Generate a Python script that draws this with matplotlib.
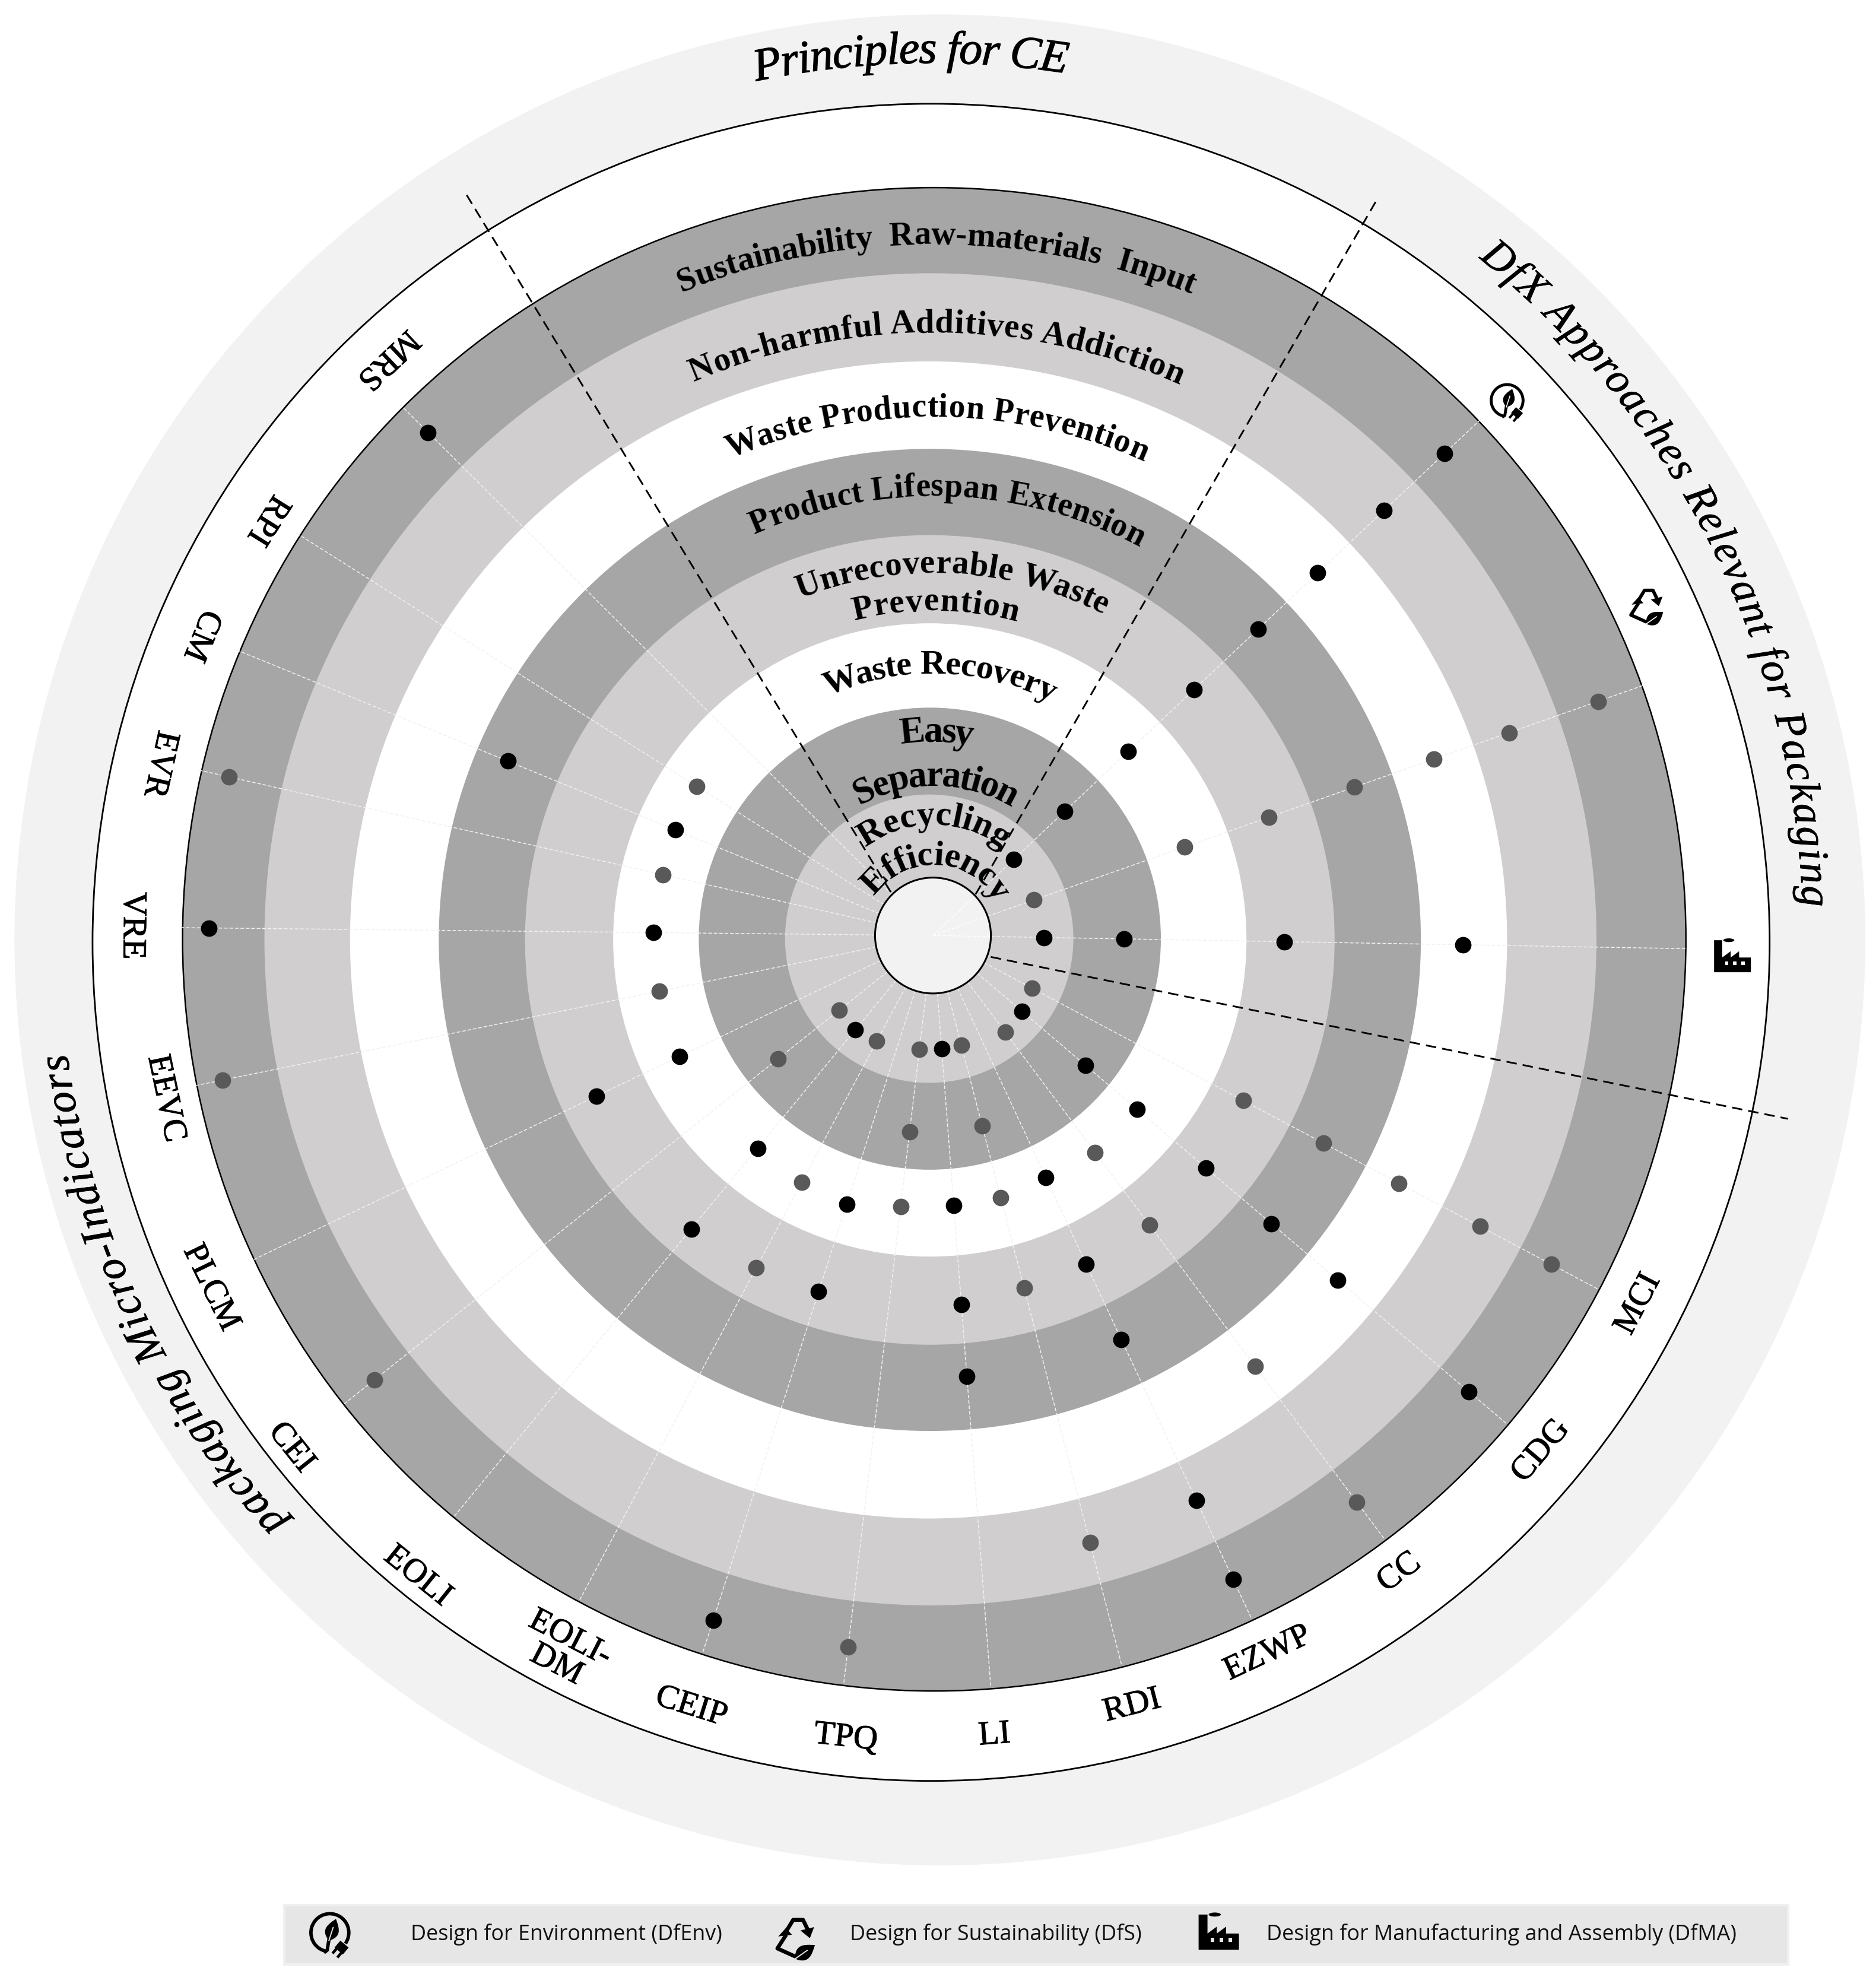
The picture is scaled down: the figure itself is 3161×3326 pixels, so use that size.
import numpy as np
import matplotlib
matplotlib.use("Agg")
import matplotlib.pyplot as plt
import matplotlib.patheffects as pe
from matplotlib.font_manager import FontProperties
from matplotlib.patches import Arc, Circle, Ellipse, Polygon, Rectangle

W, H = 3161, 3326
PX = 2.1215  # radial unit -> pixels
CX, CY = 741 * PX, 743 * PX

# rings, outer to inner (drawn biggest first), the picture is not quite concentric
ring_r = [597, 529, 459.5, 390, 321.5, 251.5, 183.5, 114.5]
ring_cx = [742, 739, 737.5, 738.5, 738.5, 738.5, 738.5, 738]
ring_cy = [746, 746, 746.5, 746.5, 746.5, 746.5, 745.5, 745.5]
ring_colors = ['#a6a6a6', '#d0cece', '#ffffff', '#a6a6a6', '#d0cece', '#ffffff', '#a6a6a6', '#d0cece']
HOLE_R = 46
SPOKE_END = 598

# spokes: angle clockwise from east, radius of each dot, tone
spoke_theta = [-43.3, -19.4, 1.0, 28, 40.4, 53.2, 65, 75.5, 85.6, 96.8, 107.8, 118,
               129.5, 141.5, 154.5, 168.5, 180.6, 192.7, 202.3, 212.3, 224.9]
spoke_dots = [
    [558, 492, 420, 355, 285, 213, 144, 88],
    [560, 485, 422, 355, 283, 212, 85],
    [421, 279, 152, 88],
    [556, 492, 419, 351, 279, 89],
    [559, 422, 353, 285, 213, 159, 93],
    [562, 427, 287, 215, 96],
    [564, 495, 354, 288, 212],
    [498, 289, 215, 156, 90],
    [351, 294, 215, 90],
    [569, 217, 157, 91],
    [571, 297, 224],
    [299, 222, 95],
    [302, 219, 97],
    [567, 157, 95],
    [296, 223],
    [576, 222],
    [575, 222],
    [573, 220],
    [365, 221],
    [222],
    [566],
]
spoke_tone = ['k', 'g'] * 10 + ['k']

# indicator names around the rim
label_names = ['MRS', 'RPI', 'CM', 'EVR', 'VRE', 'EEVC', 'PLCM', 'CEI', 'EOLI', 'EOLI-\nDM',
               'CEIP', 'TPQ', 'LI', 'RDI', 'EZWP', 'CC', 'CDG', 'MCI']
label_theta = [226.6, 212, 202.3, 192.5, 180.7, 168, 154, 141.4, 128.8, 117.3,
               107.4, 96.2, 85.6, 75.5, 65, 53.8, 40.3, 27.6]
label_r = [630, 623, 628, 629, 636, 623, 638, 652, 653, 640, 642, 641, 637, 632, 629, 627, 633, 632]

# principles written along the rings: text, baseline radius, centre, span, font size
ring_labels = [
    ('Sustainability  Raw-materials  Input', 549, 270.3, 43.3, 41),
    ('Non-harmful Additives Addiction', 479, 270.4, 47.5, 41),
    ('Waste Production Prevention', 412, 270.5, 47, 40),
    ('Product Lifespan Extension', 349, 272, 52, 40),
    ('Unrecoverable Waste', 288, 273.2, 49.5, 41),
    ('Prevention', 258, 270.5, 29, 41),
    ('Waste Recovery', 208, 271.5, 50.5, 42),
    ('Easy', 154, 271, 21, 46),
    ('Separation', 119, 271, 61, 45),
    ('Recycling', 88, 270.5, 76, 43),
    ('Efficiency', 56, 273, 118, 43),
]

# dashed sector dividers: (theta0, r0, theta1, r1)
dividers = [(225.8, 48, 237.8, 695), (316, 47, 301.1, 684), (20.3, 49, 12.1, 694.5)]

legend_names = ['Design for Environment (DfEnv)', 'Design for Sustainability (DfS)',
                'Design for Manufacturing and Assembly (DfMA)']
legend_x = [326, 675, 1006]

plt.rcParams['font.family'] = ['Liberation Serif', 'DejaVu Serif']

fig = plt.figure(figsize=(W / 100, H / 100), dpi=100, facecolor='white')

# pixel layer for the circles, icons and legend
ax0 = fig.add_axes([0, 0, 1, 1])
ax0.set_xlim(0, W)
ax0.set_ylim(H, 0)
ax0.axis('off')
ax0.add_patch(Circle((746.5 * PX, 746.5 * PX), 735 * PX, fc='#f2f2f2', ec='none'))
ax0.add_patch(Circle((739.5 * PX, 748.4 * PX), 666 * PX, fc='white', ec='black', lw=2))
for r, x, y, c in zip(ring_r, ring_cx, ring_cy, ring_colors):
    ax0.add_patch(Circle((x * PX, y * PX), r * PX, fc=c, ec='none'))
ax0.add_patch(Circle((ring_cx[0] * PX, ring_cy[0] * PX), ring_r[0] * PX, fc='none', ec='black', lw=1.8))

# polar layer, same centre as the spokes
RMAX = 620
ax = fig.add_axes([(CX - RMAX * PX) / W, 1 - (CY + RMAX * PX) / H, 2 * RMAX * PX / W, 2 * RMAX * PX / H],
                  projection='polar')
ax.set_theta_zero_location('E')
ax.set_theta_direction(-1)
ax.set_ylim(0, RMAX)
ax.axis('off')

th = np.linspace(0, 2 * np.pi, 400)
ax.fill(th, np.full(400, HOLE_R), color='#f2f2f2', lw=0, zorder=5)
ax.plot(th, np.full(400, HOLE_R), color='black', lw=2.2, zorder=6)

for t in spoke_theta:
    ax.plot(np.radians([t, t]), [HOLE_R, SPOKE_END], color='#f1f1f1', lw=1.1, ls=(0, (4, 2)), zorder=3)
# the first three also show inside the centre disc
for t in spoke_theta[:3]:
    ax.plot(np.radians([t, t]), [0, HOLE_R], color='white', lw=1.0, ls=(0, (4, 2)), zorder=5.5)

for t0, r0, t1, r1 in dividers:
    ax.plot(np.radians([t0, t1]), [r0, r1], color='black', lw=2.1, ls=(0, (6, 3.5)), clip_on=False, zorder=7)

tone_color = {'k': 'black', 'g': '#595959'}
for t, rs, tone in zip(spoke_theta, spoke_dots, spoke_tone):
    ax.scatter(np.radians(np.full(len(rs), t)), rs, s=400, color=tone_color[tone], linewidths=0, zorder=8)

renderer = fig.canvas.get_renderer()


def curved_text(text, r, center, span, size, style='normal', weight='bold', stroke=0):
    # one letter at a time along the arc, clockwise, tops outward
    fp = FontProperties(family='Liberation Serif', size=size, style=style, weight=weight)
    natural = renderer.get_text_width_height_descent(text, fp, False)[0]
    arc = np.radians(span) * r * PX
    extra = (arc - natural) / max(len(text) - 1, 1)
    effects = [pe.withStroke(linewidth=stroke, foreground='black')] if stroke else None
    for i, ch in enumerate(text):
        if ch == ' ':
            continue
        w0 = renderer.get_text_width_height_descent(text[:i + 1], fp, False)[0]
        wc = renderer.get_text_width_height_descent(ch, fp, False)[0]
        pos = w0 - wc / 2 + extra * i
        t = center + np.degrees((pos - arc / 2) / (r * PX))
        ax.text(np.radians(t), r, ch, fontproperties=fp, rotation=(-t - 90) % 360, rotation_mode='anchor',
                ha='center', va='baseline', color='black', clip_on=False, zorder=9, path_effects=effects)


for txt, r, c, sp, sz in ring_labels:
    curved_text(txt, r, c, sp, sz)

curved_text('Principles for CE', 693, 268.55, 20.5, 56, style='italic', weight='normal', stroke=0.9)
curved_text('DfX Approaches Relevant for Packaging', 691, 333.5, 49.3, 52, style='italic', weight='normal', stroke=0.5)
curved_text('packaging Micro-Indicators', 694, 155, 34.5, 53, style='italic', weight='normal', stroke=0.5)

for name, t, r in zip(label_names, label_theta, label_r):
    ax.text(np.radians(t), r, name, rotation=90 - t, rotation_mode='anchor', ha='center', va='center',
            fontsize=41, color='black', linespacing=0.95, clip_on=False, zorder=9, multialignment='center',
            path_effects=[pe.withStroke(linewidth=0.7, foreground='black')])


def leaf(x, y, length, width, angle, rib):
    # pointed leaf, base at x, y, angle in degrees clockwise on screen from east
    t = np.linspace(0, 1, 30)
    half = width / 2 * np.sin(np.pi * t ** 0.8)
    a = np.radians(angle)
    ux, uy = np.cos(a), np.sin(a)
    px, py = -uy, ux
    pts = [(x + length * s * ux + h * px, y + length * s * uy + h * py) for s, h in zip(t, half)]
    pts += [(x + length * s * ux - h * px, y + length * s * uy - h * py) for s, h in zip(t[::-1], half[::-1])]
    ax0.add_patch(Polygon(pts, fc='black', ec='none'))
    ax0.plot([x, x + 0.6 * length * ux], [y, y + 0.6 * length * uy], color=rib, lw=length * 0.035)


def icon(kind, x, y, s, bg='white'):
    # s is the icon width in pixels
    lw = s * 0.055
    if kind == 'env':
        ax0.add_patch(Arc((x, y - 0.03 * s), 0.84 * s, 0.84 * s, theta1=105, theta2=395, color='black', lw=lw))
        ax0.plot([x - 0.1 * s, x - 0.06 * s, x - 0.02 * s], [y + 0.39 * s, y + 0.36 * s, y + 0.12 * s], color='black', lw=lw)
        leaf(x - 0.02 * s, y + 0.14 * s, 0.5 * s, 0.3 * s, -72, bg)
        # plug
        a = np.radians(-50)
        ux, uy = np.cos(a), np.sin(a)
        px, py = -uy, ux
        mx, my = x + 0.26 * s, y + 0.3 * s
        body = [(mx + m * ux * s + n * px * s, my + m * uy * s + n * py * s)
                for m, n in [(-0.1, -0.12), (0.1, -0.12), (0.1, 0.12), (-0.1, 0.12)]]
        ax0.add_patch(Polygon(body, fc='black', ec='none'))
        for n in (-0.07, 0.07):
            ax0.plot([mx - 0.1 * ux * s + n * px * s, mx - 0.2 * ux * s + n * px * s],
                     [my - 0.1 * uy * s + n * py * s, my - 0.2 * uy * s + n * py * s], color='black', lw=lw * 0.8)
    elif kind == 'rec':
        ax0.plot([x - 0.2 * s, x - 0.03 * s, x + 0.2 * s, x + 0.32 * s],
                 [y - 0.17 * s, y - 0.45 * s, y - 0.45 * s, y - 0.2 * s], color='black', lw=lw * 1.2)
        ax0.add_patch(Polygon([(x + 0.14 * s, y - 0.2 * s), (x + 0.46 * s, y - 0.28 * s), (x + 0.36 * s, y - 0.02 * s)], fc='black', ec='none'))
        ax0.plot([x + 0.0 * s, x - 0.4 * s, x - 0.22 * s], [y + 0.4 * s, y + 0.22 * s, y - 0.06 * s], color='black', lw=lw * 1.2)
        ax0.add_patch(Polygon([(x - 0.38 * s, y - 0.06 * s), (x - 0.06 * s, y - 0.1 * s), (x - 0.2 * s, y - 0.26 * s)], fc='black', ec='none'))
        leaf(x + 0.02 * s, y + 0.46 * s, 0.56 * s, 0.34 * s, -35, bg)
    else:
        pts = [(-0.5, 0.45), (-0.5, -0.42), (-0.28, -0.42), (-0.28, 0.05), (-0.05, -0.12), (-0.05, 0.05),
               (0.18, -0.12), (0.18, 0.05), (0.5, 0.05), (0.5, 0.45)]
        ax0.add_patch(Polygon([(x + a * s, y + b * s) for a, b in pts], fc='black', ec='none'))
        ax0.add_patch(Ellipse((x - s * 0.1, y - s * 0.42), s * 0.3, s * 0.1, fc='black', ec='none'))
        for a in (-0.2, 0.02, 0.24):
            ax0.add_patch(Rectangle((x + a * s, y + 0.16 * s), 0.09 * s, 0.1 * s, fc=bg, ec='none'))


icon('env', 1197 * PX, 319 * PX, 64)
icon('rec', 1307 * PX, 482 * PX, 62)
icon('fac', 1376 * PX, 759 * PX, 62)

# legend strip
ax0.add_patch(Rectangle((226 * PX, 1513 * PX), 1194 * PX, 47 * PX, fc='#e6e6e6', ec='#f0f0f0', lw=3))
icon('env', 262 * PX, 1536 * PX, 76, bg='#e6e6e6')
icon('rec', 631 * PX, 1540 * PX, 72, bg='#e6e6e6')
icon('fac', 968 * PX, 1534 * PX, 68, bg='#e6e6e6')
for name, x in zip(legend_names, legend_x):
    ax0.text(x * PX, 1536.5 * PX, name, family='Open Sans', fontsize=25.8, ha='left', va='center', color='#111111')

fig.savefig('out.png', dpi=100)
